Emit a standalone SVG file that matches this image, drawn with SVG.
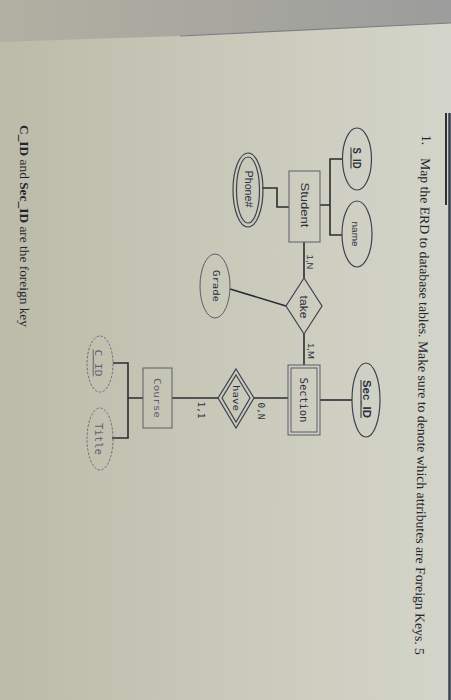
<svg xmlns="http://www.w3.org/2000/svg" width="451" height="700" viewBox="0 0 451 700">
<defs>
<linearGradient id="page" x1="0" y1="0" x2="1" y2="0">
<stop offset="0" stop-color="#bcbba9"/>
<stop offset="0.5" stop-color="#c9c9ba"/>
<stop offset="1" stop-color="#d4d5ca"/>
</linearGradient>
<linearGradient id="top" x1="0" y1="0" x2="1" y2="0">
<stop offset="0" stop-color="#b2b0a2"/>
<stop offset="1" stop-color="#9c9d9c"/>
</linearGradient>
<style>
.ln{stroke:#2a2c33;stroke-width:1.6;fill:none}
.sh{fill:none;stroke:#3e4250;stroke-width:1.2}
.lt{fill:none;stroke:#5a5e6a;stroke-width:1}
.dash{fill:none;stroke:#6a6e78;stroke-width:1;stroke-dasharray:2.5 1.5}
.lbl{font-family:"Liberation Sans",Arial,sans-serif;fill:#2c3040;text-anchor:middle}
.mono{font-family:"DejaVu Sans Mono","Liberation Mono",monospace}
.pale{fill:#5e6272}
.serif{font-family:"Liberation Serif","Times New Roman",serif;fill:#23242c}
</style>
</defs>
<rect x="0" y="0" width="451" height="700" fill="url(#page)"/>
<polygon points="0,0 451,0 451,23 180,36 0,42" fill="url(#top)"/>
<line x1="180" y1="36" x2="451" y2="23" stroke="#7d7f86" stroke-width="1.2"/>
<line x1="449.5" y1="113" x2="449.5" y2="700" stroke="#3a4052" stroke-width="2.5"/>
<line x1="446" y1="113" x2="446" y2="205" stroke="#2e3038" stroke-width="2"/>

<g id="heading">
<text class="serif" font-size="13.5" transform="translate(422,135) rotate(90.7)">1.</text>
<text class="serif" font-size="13.5" textLength="497" lengthAdjust="spacingAndGlyphs" transform="translate(421,158) rotate(90.7)">Map the ERD to database tables. Make sure to denote which attributes are Foreign Keys. 5</text>
</g>

<g id="connectors">
<path class="ln" d="M343,159 H330 V235 H342 M320,205 H330"/>
<path class="ln" d="M262,188 H277 V207 H289"/>
<path class="ln" d="M304,242 V278"/>
<path class="ln" d="M304,334 V365"/>
<path class="ln" d="M230,289 L286,306" stroke-width="1.3"/>
<path class="ln" d="M320,400 H352"/>
<path class="ln" d="M288,398 H254"/>
<path class="ln" d="M218,398 H172"/>
<path class="ln" d="M143,398 H128 M113,363 H128 V438 H112"/>
<g class="lbl" font-size="9.5">
<text transform="translate(310.5,262) rotate(90)" dy="0.35em">1,N</text>
<text transform="translate(311,351) rotate(90)" dy="0.35em">1,M</text>
<text class="mono" transform="translate(261,411) rotate(90)" dy="0.35em" font-size="9.5">0,N</text>
<text class="mono" transform="translate(201.5,410) rotate(90)" dy="0.35em" font-size="9.5">1,1</text>
</g>
</g>

<g id="S_ID">
<ellipse class="sh" cx="357" cy="159" rx="14.5" ry="31"/>
<text class="lbl" font-size="10" font-weight="bold" text-decoration="underline" textLength="21" lengthAdjust="spacingAndGlyphs" transform="translate(356,158) rotate(90)" dy="0.35em">S_ID</text>
</g>
<g id="name">
<ellipse class="sh" cx="357" cy="234" rx="15" ry="33"/>
<text class="lbl" font-size="9" textLength="25" lengthAdjust="spacingAndGlyphs" transform="translate(355,234) rotate(90)" dy="0.35em">name</text>
</g>
<g id="Student">
<rect class="lt" x="289" y="171" width="31" height="71"/>
<text class="lbl" font-size="11.5" textLength="45" lengthAdjust="spacingAndGlyphs" transform="translate(305,205) rotate(90)" dy="0.35em">Student</text>
</g>
<g id="Phone">
<ellipse class="sh" cx="248" cy="190" rx="15" ry="37"/>
<ellipse class="sh" cx="248" cy="190" rx="11.5" ry="33"/>
<text class="lbl" font-size="10" textLength="37" lengthAdjust="spacingAndGlyphs" transform="translate(248,189) rotate(90)" dy="0.35em">Phone#</text>
</g>
<g id="take">
<polygon class="sh" points="304,278 322,306 304,334 286,306"/>
<text class="lbl" font-size="10.5" textLength="23" lengthAdjust="spacingAndGlyphs" transform="translate(304,307) rotate(90)" dy="0.35em">take</text>
</g>
<g id="Grade">
<ellipse class="lt" cx="215" cy="286" rx="15" ry="32"/>
<text class="lbl mono" font-size="9.5" textLength="32" lengthAdjust="spacingAndGlyphs" transform="translate(216,286) rotate(90)" dy="0.35em">Grade</text>
</g>
<g id="Section">
<rect class="lt" x="288" y="365" width="32" height="70"/>
<rect class="lt" x="291" y="368" width="26" height="64"/>
<text class="lbl mono" font-size="10.5" textLength="45" lengthAdjust="spacingAndGlyphs" transform="translate(304,400) rotate(90)" dy="0.35em">Section</text>
</g>
<g id="Sec_ID">
<ellipse class="sh" cx="366" cy="400" rx="14" ry="37"/>
<text class="lbl" font-size="10" font-weight="bold" text-decoration="underline" textLength="38" lengthAdjust="spacingAndGlyphs" transform="translate(366,399) rotate(90)" dy="0.35em">Sec_ID</text>
</g>
<g id="have">
<polygon class="sh" points="236,369 254,398 236,428 218,398"/>
<polygon class="sh" points="236,375 250,398 236,422 222,398"/>
<text class="lbl mono" font-size="9" textLength="26" lengthAdjust="spacingAndGlyphs" transform="translate(236,398) rotate(90)" dy="0.35em">have</text>
</g>
<g id="Course">
<rect class="lt" x="143" y="368" width="29" height="60"/>
<text class="lbl mono pale" font-size="9.5" textLength="40" lengthAdjust="spacingAndGlyphs" transform="translate(157,398) rotate(90)" dy="0.35em">Course</text>
</g>
<g id="C_ID">
<ellipse class="dash" cx="100" cy="364" rx="13" ry="28"/>
<text class="lbl mono pale" font-size="9.5" text-decoration="underline" textLength="27" lengthAdjust="spacingAndGlyphs" transform="translate(98,363) rotate(90)" dy="0.35em">C_ID</text>
</g>
<g id="Title">
<ellipse class="dash" cx="100" cy="439" rx="13" ry="31"/>
<text class="lbl mono pale" font-size="10" textLength="32" lengthAdjust="spacingAndGlyphs" transform="translate(98,439) rotate(90)" dy="0.35em">Title</text>
</g>

<g id="answer">
<text class="serif" font-size="12" textLength="202" lengthAdjust="spacingAndGlyphs" transform="translate(20,125) rotate(90)"><tspan font-weight="bold">C_ID</tspan> and <tspan font-weight="bold">Sec_ID</tspan> are the foreign key</text>
</g>
</svg>
